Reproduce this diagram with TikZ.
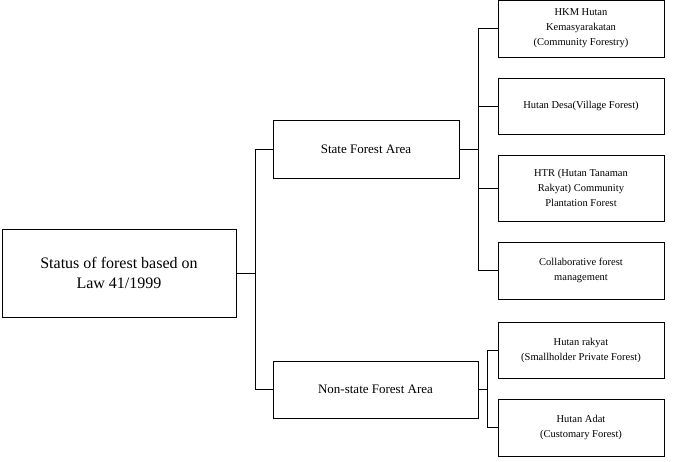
\documentclass[tikz,border=0pt]{standalone}
\usepackage{fontspec}
\setmainfont{Liberation Serif}
\tikzset{
  box/.style={draw,thick,align=center,inner sep=2pt},
  leaf/.style={box,minimum width=166pt,font=\fontsize{10.5}{15}\selectfont},
  wire/.style={thick},
}
\begin{document}
\begin{tikzpicture}[x=1pt,y=-1pt]
  \useasboundingbox (0,0) rectangle (685,461);
  % root and the two areas
  \node[box,minimum width=234pt,minimum height=88pt,font=\fontsize{16}{20}\selectfont]
    (root) at (119,273) {Status of forest based on\\Law 41/1999};
  \node[box,minimum width=186pt,minimum height=58pt,font=\fontsize{13}{16}\selectfont]
    (state) at (366,149) {State Forest Area};
  \node[box,minimum width=205pt,minimum height=57pt,font=\fontsize{13}{16}\selectfont]
    (nonstate) at (375.5,389.5) {Non-state Forest Area};
  % leaves
  \node[leaf,minimum height=57pt] (hkm) at (581,28.5) {HKM Hutan\\Kemasyarakatan\\(Community Forestry)};
  \node[leaf,minimum height=56pt] (desa) at (581,106) {Hutan Desa(Village Forest)};
  \node[leaf,minimum height=66pt] (htr) at (581,188) {HTR (Hutan Tanaman\\Rakyat) Community\\Plantation Forest};
  \node[leaf,minimum height=57pt] (collab) at (581,270.5) {Collaborative forest\\management};
  \node[leaf,minimum height=56pt] (rakyat) at (581,350) {Hutan rakyat\\(Smallholder Private Forest)};
  \node[leaf,minimum height=57pt] (adat) at (581,427.5) {Hutan Adat\\(Customary Forest)};
  % connectors
  \coordinate (j1) at (255,273);
  \coordinate (j2) at (478,149);
  \coordinate (j3) at (487,389.5);
  \draw[wire] (root.east) -- (j1);
  \draw[wire] (j1) |- (state.west);
  \draw[wire] (j1) |- (nonstate.west);
  \draw[wire] (state.east) -- (j2);
  \foreach \n in {hkm,desa,htr,collab}
    \draw[wire] (j2) |- (\n.west);
  \draw[wire] (nonstate.east) -- (j3);
  \foreach \n in {rakyat,adat}
    \draw[wire] (j3) |- (\n.west);
\end{tikzpicture}
\end{document}
